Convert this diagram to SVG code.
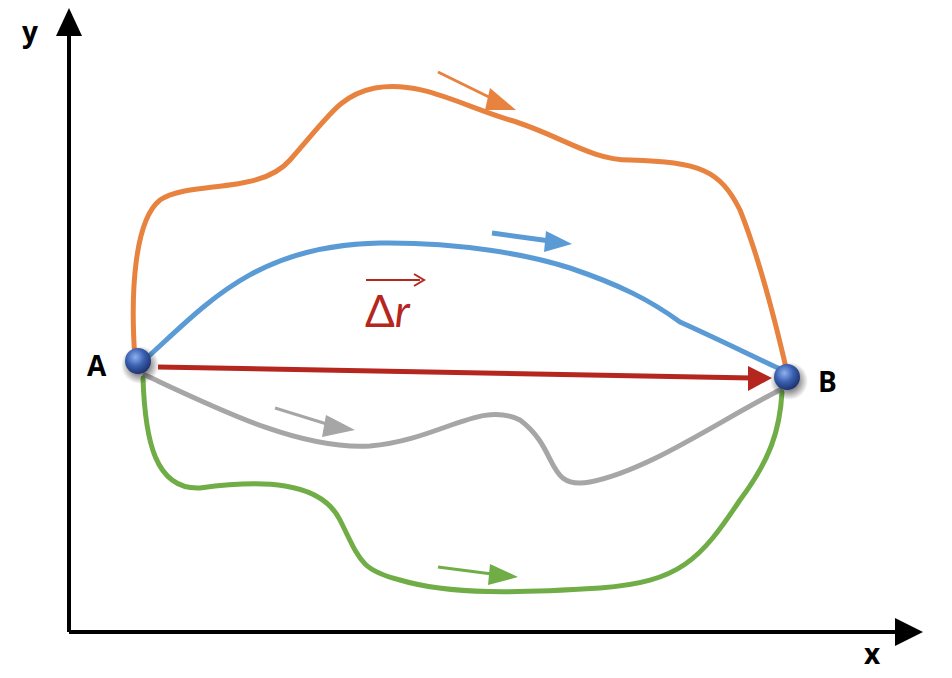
<svg xmlns="http://www.w3.org/2000/svg" width="952" height="678" viewBox="0 0 952 678">
<defs>
<style>
.p{fill:none;stroke-width:5;stroke-linecap:round}
.lab{font-family:"Open Sans","Liberation Sans",sans-serif;font-weight:bold;font-size:28px;fill:#000}
</style>
<marker id="ax" markerWidth="10" markerHeight="10" refX="2" refY="5" orient="auto" markerUnits="userSpaceOnUse" viewBox="0 0 10 10"><path d="M0,0L10,5L0,10z" fill="#000"/></marker>
<radialGradient id="ball" cx="0.4" cy="0.35" r="0.7"><stop offset="0" stop-color="#8fb0ee"/><stop offset="0.5" stop-color="#3a5fb0"/><stop offset="1" stop-color="#1a2d66"/></radialGradient>
<radialGradient id="sh"><stop offset="0.5" stop-color="#000" stop-opacity="0.45"/><stop offset="1" stop-color="#000" stop-opacity="0"/></radialGradient>
</defs>
<g id="axes" stroke="#000" stroke-width="4" fill="none">
<path d="M69,632V32"/><path d="M69,632H898"/>
<path d="M56,36L69,8L82,36z" fill="#000" stroke="none"/>
<path d="M895,618L923,632L895,646z" fill="#000" stroke="none"/>
</g>
<text class="lab" x="22" y="42">y</text>
<text class="lab" x="864" y="664">x</text>
<g id="connectors">
<path class="p" stroke="#e8823f" d="M135,360C130,290 135,220 160,200C190,180 260,195 290,160C330,115 340,95 375,88C420,80 460,105 510,120C560,135 590,160 630,160C700,162 720,170 740,210C760,260 775,320 787,372"/>
<path class="p" stroke="#5b9bd5" d="M150,355C210,300 260,245 380,243C460,242 530,255 570,268C620,285 650,300 680,322C720,340 750,355 778,368"/>
<path class="p" stroke="#a6a6a6" d="M145,375C220,410 300,450 370,446C440,440 480,400 520,420C560,450 545,490 590,482C650,470 720,420 780,390"/>
<path class="p" stroke="#70ad47" d="M143,378C145,440 155,490 200,488C260,480 320,480 340,520C360,560 360,570 400,580C450,595 520,593 600,588C680,582 700,560 740,500C770,460 780,430 782,392"/>
<path stroke="#e8823f" stroke-width="3" d="M438,72L495,100"/><path fill="#e8823f" d="M490,88L516,110L485,110z"/>
<path stroke="#5b9bd5" stroke-width="5" d="M492,233L550,241"/><path fill="#5b9bd5" d="M546,231L572,244L544,252z"/>
<path stroke="#a6a6a6" stroke-width="3" d="M275,408L330,425"/><path fill="#a6a6a6" d="M326,415L355,430L322,437z"/>
<path stroke="#70ad47" stroke-width="3" d="M438,567L492,574"/><path fill="#70ad47" d="M490,564L518,577L488,585z"/>
<path stroke="#b5261e" stroke-width="5" d="M158,367L752,378"/><path fill="#b5261e" d="M748,366L772,378L748,391z"/>
</g>
<text x="365" y="327" font-family="Lato,'Open Sans',sans-serif" font-size="44" fill="#b5261e">Δ<tspan font-style="italic">r</tspan></text>
<path d="M366,280H420" stroke="#b5261e" stroke-width="2"/><path d="M414,274L424,280L414,286" stroke="#b5261e" stroke-width="2" fill="none"/>
<g id="A"><circle cx="140" cy="365" r="19" fill="url(#sh)"/><circle cx="138" cy="361" r="13" fill="url(#ball)"/></g>
<g id="B"><circle cx="789" cy="381" r="19" fill="url(#sh)"/><circle cx="787" cy="377" r="13" fill="url(#ball)"/></g>
<text class="lab" x="87" y="376">A</text>
<text class="lab" x="818" y="392">B</text>
</svg>
